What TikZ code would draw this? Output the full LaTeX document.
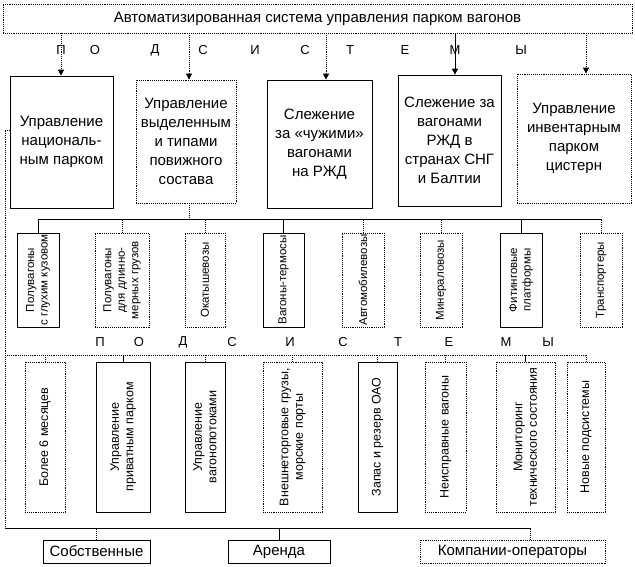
\documentclass[tikz,border=0pt]{standalone}
\usepackage{fontspec}
\setmainfont{Liberation Sans}
\usetikzlibrary{arrows.meta}
\begin{document}
\begin{tikzpicture}[x=1pt,y=-1pt,
 sb/.style={draw,line width=0.7pt},
 db/.style={draw,densely dotted,line width=0.9pt},
 txt/.style={font=\fontsize{15}{19}\selectfont,align=center,inner sep=1pt},
 vt/.style={rotate=90,font=\fontsize{11.5}{13.5}\selectfont,align=center},
 vtb/.style={rotate=90,font=\fontsize{12.5}{14.5}\selectfont,align=center},
 lt/.style={font=\fontsize{13}{15}\selectfont},
 arr/.style={-{Triangle[length=6pt,width=6pt]}},
 ln/.style={line width=0.7pt},
 dl/.style={densely dotted,line width=0.9pt}]
\useasboundingbox (0,0) rectangle (635,566);
% top
\node[db,minimum width=629,minimum height=29,font=\fontsize{15}{17}\selectfont] (top) at (317.5,18.5) {Автоматизированная система управления парком вагонов};
% letters
\foreach \c/\x in {П/61,О/95,Д/155,С/203,И/255,С/305,Т/350,Е/405,М/455,Ы/521}
  \node[lt] at (\x,50) {\c};
\foreach \c/\x in {П/100,О/139,Д/183,С/232,И/290,С/343,Т/398,Е/449,М/506,Ы/548}
  \node[lt] at (\x,342) {\c};
% row1 boxes
\node[sb,txt,minimum width=103,minimum height=132] (a1) at (61.5,142) {Управление\\националь-\\ным парком};
\node[db,txt,minimum width=100,minimum height=123] (a2) at (186,141.5) {Управление\\выделенным\\и типами\\повижного\\состава};
\node[sb,txt,minimum width=105,minimum height=128] (a3) at (319.5,144) {Слежение\\за «чужими»\\вагонами\\на РЖД};
\node[sb,txt,minimum width=103,minimum height=131] (a4) at (449.5,140.5) {Слежение за\\вагонами\\РЖД в\\странах СНГ\\и Балтии};
\node[db,txt,minimum width=114,minimum height=129] (a5) at (574,138.5) {Управление\\инвентарным\\парком\\цистерн};
\draw[dl,arr] (top.south -| 61,0) -- (a1.north -| 61,0);
\draw[dl,arr] (top.south -| 189,0) -- (a2.north -| 189,0);
\draw[dl,arr] (top.south -| 326,0) -- (a3.north -| 326,0);
\draw[ln,arr] (top.south -| 455,0) -- (a4.north -| 455,0);
\draw[dl,arr] (top.south -| 586,0) -- (a5.north -| 586,0);
% row2 boxes
\node[sb,minimum width=42,minimum height=94] (b1) at (38,280) {};
\node[vt] at (b1) {Полувагоны\\с глухим кузовом};
\node[db,minimum width=54,minimum height=94] (b2) at (122,280) {};
\node[vt] at (b2) {Полувагоны\\для длинно-\\мерных грузов};
\node[db,minimum width=40,minimum height=94] (b3) at (205,280) {};
\node[vt] at (b3) {Окатышевозы};
\node[sb,minimum width=41,minimum height=94] (b4) at (283.5,280) {};
\node[vt] at (b4) {Вагоны-термосы};
\node[db,minimum width=42,minimum height=94] (b5) at (363,280) {};
\node[vt] at (b5) {Автомобилевозы};
\node[db,minimum width=42,minimum height=94] (b6) at (441,280) {};
\node[vt] at (b6) {Минераловозы};
\node[sb,minimum width=42,minimum height=94] (b7) at (521,280) {};
\node[vt] at (b7) {Фитинговые\\платформы};
\node[db,minimum width=42,minimum height=94] (b8) at (601,280) {};
\node[vt] at (b8) {Транспортеры};
\coordinate (bus1) at (189,219);
\draw[dl] (a2.south -| 189,0) -- (bus1);
\draw[ln] (38,219) -- (601,219);
\foreach \n in {b1,b4,b7} \draw[ln] (\n.north) -- (\n.north |- bus1);
\foreach \n in {b2,b3,b5,b6,b8} \draw[dl] (\n.north) -- (\n.north |- bus1);
% row3 boxes
\node[db,minimum width=40,minimum height=150] (c1) at (45,437) {};
\node[vtb] at (c1) {Более 6 месяцев};
\node[sb,minimum width=54,minimum height=150] (c2) at (123,437) {};
\node[vtb] at (c2) {Управление\\приватным парком};
\node[sb,minimum width=40,minimum height=150] (c3) at (205,437) {};
\node[vtb] at (c3) {Управление\\вагонопотоками};
\node[db,minimum width=59,minimum height=150] (c4) at (292.5,437) {};
\node[vtb] at (c4) {Внешнеторговые грузы,\\морские порты};
\node[sb,minimum width=39,minimum height=150] (c5) at (377.5,437) {};
\node[vtb] at (c5) {Запас и резерв ОАО};
\node[db,minimum width=41,minimum height=150] (c6) at (445.5,437) {};
\node[vtb] at (c6) {Неисправные вагоны};
\node[db,minimum width=59,minimum height=150] (c7) at (525.5,437) {};
\node[vtb] at (c7) {Мониторинг\\технического состояния};
\node[db,minimum width=38,minimum height=150] (c8) at (586,437) {};
\node[vtb] at (c8) {Новые подсистемы};
\coordinate (bus2) at (5,355);
\coordinate (lt) at (5,130);
\draw[dl] (a1.west |- lt) -- (lt) -- (bus2);
\draw[dl] (bus2) -- (586,355);
\foreach \n in {c2,c7} \draw[ln] (\n.north) -- (\n.north |- bus2);
\foreach \n in {c1,c3,c4,c5,c6,c8} \draw[dl] (\n.north) -- (\n.north |- bus2);
% bottom
\node[sb,txt,minimum width=107,minimum height=23] (d1) at (96.5,551.5) {Собственные};
\node[sb,txt,minimum width=102,minimum height=23] (d2) at (279,551.5) {Аренда};
\node[db,txt,minimum width=185,minimum height=23] (d3) at (512.5,551.5) {Компании-операторы};
\coordinate (bl) at (5,528);
\draw[dl] (bus2) -- (bl);
\draw[ln] (bl) -- (530,528);
\draw[dl] (d1.north -| 96,0) -- (96,528);
\draw[ln] (d2.north) -- (d2.north |- bl);
\draw[dl] (d3.north -| 530,0) -- (530,528);
\end{tikzpicture}
\end{document}
